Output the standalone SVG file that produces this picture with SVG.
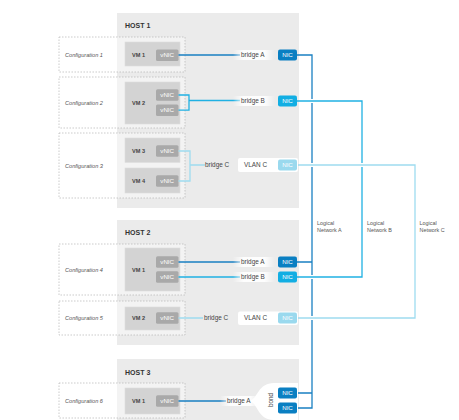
<svg xmlns="http://www.w3.org/2000/svg" width="459" height="420" viewBox="0 0 459 420">
<defs>
<style>
.host{fill:#ebebeb}
.cfg{fill:#ffffff;fill-opacity:0.4;stroke:#b5b5b5;stroke-width:0.7;stroke-dasharray:1.5,1.5}
.vm{fill:#d3d3d3;stroke:#dedede;stroke-width:0.6}
.vnic{fill:#a9a9a9}
.t{font-family:"Liberation Sans",Arial,sans-serif}
.hl{font-size:7px;font-weight:bold;fill:#333}
.cl{font-size:5.6px;font-style:italic;fill:#555}
.vl{font-size:5.6px;font-weight:bold;fill:#444}
.wt{font-size:6.2px;fill:#fff;text-anchor:middle}
.bl{font-size:6.4px;fill:#444}
.ln{font-size:5.4px;fill:#555}
.a{fill:none;stroke:#1a80c2;stroke-width:1.3}
.b{fill:none;stroke:#20b1e3;stroke-width:1.3}
.c{fill:none;stroke:#9edcf0;stroke-width:1.3}
.halo{fill:none;stroke:#fff;stroke-width:4}
.nica{fill:#0a7fc2}
.nicb{fill:#12aee3}
.nicc{fill:#9ad9ee}
</style>
<linearGradient id="fade" x1="0" x2="1" y1="0" y2="0">
<stop offset="0" stop-color="#fff" stop-opacity="0"/>
<stop offset="0.25" stop-color="#fff" stop-opacity="0.9"/>
<stop offset="0.75" stop-color="#fff" stop-opacity="0.9"/>
<stop offset="1" stop-color="#fff" stop-opacity="0"/>
</linearGradient>
</defs>

<g id="host1"><rect class="host" x="117" y="13" width="182" height="195"/><text class="t hl" x="125" y="28">HOST 1</text></g>
<g id="host2"><rect class="host" x="117" y="220" width="182" height="125"/><text class="t hl" x="125" y="235">HOST 2</text></g>
<g id="host3"><rect class="host" x="117" y="359" width="182" height="61"/><text class="t hl" x="125" y="375">HOST 3</text></g>

<g id="config1"><rect class="cfg" x="59" y="37" width="126" height="35"/><text class="t cl" x="65" y="56.5">Configuration 1</text></g>
<g id="config2"><rect class="cfg" x="59" y="77" width="126" height="51"/><text class="t cl" x="65" y="104.5">Configuration 2</text></g>
<g id="config3"><rect class="cfg" x="59" y="133" width="126" height="65"/><text class="t cl" x="65" y="168">Configuration 3</text></g>
<g id="config4"><rect class="cfg" x="59" y="244" width="126" height="51"/><text class="t cl" x="65" y="271.5">Configuration 4</text></g>
<g id="config5"><rect class="cfg" x="59" y="301" width="126" height="34"/><text class="t cl" x="65" y="320">Configuration 5</text></g>
<g id="config6"><rect class="cfg" x="59" y="383" width="126" height="35"/><text class="t cl" x="65" y="403">Configuration 6</text></g>

<g id="h1vm1"><rect class="vm" x="125" y="42" width="55" height="24"/><text class="t vl" x="132" y="56.5">VM 1</text><rect class="vnic" x="156" y="49.5" width="22.5" height="11.5" rx="1.5"/><text class="t wt" x="167.2" y="57.3">vNIC</text></g>
<g id="h1vm2"><rect class="vm" x="125" y="82" width="55" height="42"/><text class="t vl" x="132" y="104.5">VM 2</text><rect class="vnic" x="156" y="89.2" width="22.5" height="11.5" rx="1.5"/><text class="t wt" x="167.2" y="97">vNIC</text><rect class="vnic" x="156" y="104.5" width="22.5" height="11.5" rx="1.5"/><text class="t wt" x="167.2" y="112.3">vNIC</text></g>
<g id="h1vm3"><rect class="vm" x="125" y="138" width="55" height="24.5"/><text class="t vl" x="132" y="152.5">VM 3</text><rect class="vnic" x="156" y="145.2" width="22.5" height="11.5" rx="1.5"/><text class="t wt" x="167.2" y="153">vNIC</text></g>
<g id="h1vm4"><rect class="vm" x="125" y="168" width="55" height="25"/><text class="t vl" x="132" y="183">VM 4</text><rect class="vnic" x="156" y="175.2" width="22.5" height="11.5" rx="1.5"/><text class="t wt" x="167.2" y="183">vNIC</text></g>
<g id="h2vm1"><rect class="vm" x="125" y="248" width="55" height="43"/><text class="t vl" x="132" y="271.5">VM 1</text><rect class="vnic" x="156" y="256.2" width="22.5" height="11.5" rx="1.5"/><text class="t wt" x="167.2" y="264">vNIC</text><rect class="vnic" x="156" y="271.2" width="22.5" height="11.5" rx="1.5"/><text class="t wt" x="167.2" y="279">vNIC</text></g>
<g id="h2vm2"><rect class="vm" x="125" y="307" width="55" height="23"/><text class="t vl" x="132" y="320">VM 2</text><rect class="vnic" x="156" y="312.2" width="22.5" height="11.5" rx="1.5"/><text class="t wt" x="167.2" y="320">vNIC</text></g>
<g id="h3vm1"><rect class="vm" x="125" y="388" width="55" height="26"/><text class="t vl" x="132" y="403">VM 1</text><rect class="vnic" x="156" y="395.2" width="22.5" height="11.5" rx="1.5"/><text class="t wt" x="167.2" y="403">vNIC</text></g>

<g id="connectors">
<path class="a" d="M178.5,55 H240 M297,55 H312 V408 H297 M297,262 H312 M297,393 H312 M178.5,262 H240 M178.5,401 H226"/>
<path class="b" d="M178.5,95 H189 V110.2 H178.5 M189,100.5 H240 M178.5,277 H240"/>
<path class="halo" d="M300,101 H362 V277 H300"/>
<path class="b" d="M297,101 H362 V277 H297"/>
<path class="c" d="M178.5,151 H190 V181 H178.5 M190,165 H205 M178.5,318 H203"/>
<path class="halo" d="M300,165 H415 V318 H300"/>
<path class="c" d="M297,165 H415 V318 H297"/>
</g>

<g id="bridgeA1"><rect x="233" y="50" width="42" height="10" fill="url(#fade)"/><text class="t bl" x="241" y="57.3">bridge A</text></g>
<g id="bridgeB1"><rect x="233" y="96" width="42" height="10" fill="url(#fade)"/><text class="t bl" x="241" y="103">bridge B</text></g>
<g id="bridgeC1"><text class="t bl" x="205" y="167.3">bridge C</text></g>
<g id="vlanC1"><rect x="238" y="158" width="60" height="14" rx="2" fill="#fff"/><text class="t bl" x="244" y="167.3">VLAN C</text></g>
<g id="bridgeA2"><rect x="233" y="257" width="42" height="10" fill="url(#fade)"/><text class="t bl" x="241" y="264.3">bridge A</text></g>
<g id="bridgeB2"><rect x="233" y="272" width="42" height="10" fill="url(#fade)"/><text class="t bl" x="241" y="279.3">bridge B</text></g>
<g id="bridgeC2"><text class="t bl" x="204" y="320.3">bridge C</text></g>
<g id="vlanC2"><rect x="238" y="311.5" width="60" height="13.5" rx="2" fill="#fff"/><text class="t bl" x="244" y="320.3">VLAN C</text></g>
<g id="bond"><path d="M250,401 C258,398 258,383 274,383 H298 V420 H274 C258,420 258,404 250,401 Z" fill="#fff"/><rect x="220" y="396" width="40" height="10" fill="url(#fade)"/><text class="t bl" x="227" y="403.3">bridge A</text><text class="t bl" transform="translate(273,400) rotate(-90)" text-anchor="middle">bond</text></g>

<g id="nicA1"><rect class="nica" x="278" y="49.5" width="19" height="11" rx="2"/><text class="t wt" x="287.5" y="57.2">NIC</text></g>
<g id="nicB1"><rect class="nicb" x="278" y="95.5" width="19" height="11" rx="2"/><text class="t wt" x="287.5" y="103.2">NIC</text></g>
<g id="nicC1"><rect class="nicc" x="278" y="159.5" width="19" height="11" rx="2"/><text class="t wt" x="287.5" y="167.2">NIC</text></g>
<g id="nicA2"><rect class="nica" x="278" y="256.5" width="19" height="11" rx="2"/><text class="t wt" x="287.5" y="264.2">NIC</text></g>
<g id="nicB2"><rect class="nicb" x="278" y="271.5" width="19" height="11" rx="2"/><text class="t wt" x="287.5" y="279.2">NIC</text></g>
<g id="nicC2"><rect class="nicc" x="278" y="312.5" width="19" height="11" rx="2"/><text class="t wt" x="287.5" y="320.2">NIC</text></g>
<g id="nicA3a"><rect class="nica" x="278" y="387.5" width="19" height="11" rx="2"/><text class="t wt" x="287.5" y="395.2">NIC</text></g>
<g id="nicA3b"><rect class="nica" x="278" y="402.5" width="19" height="11" rx="2"/><text class="t wt" x="287.5" y="410.2">NIC</text></g>

<g id="netA"><text class="t ln" x="317" y="225">Logical</text><text class="t ln" x="317" y="231.5">Network A</text></g>
<g id="netB"><text class="t ln" x="367" y="225">Logical</text><text class="t ln" x="367" y="231.5">Network B</text></g>
<g id="netC"><text class="t ln" x="419.5" y="225">Logical</text><text class="t ln" x="419.5" y="231.5">Network C</text></g>
</svg>
